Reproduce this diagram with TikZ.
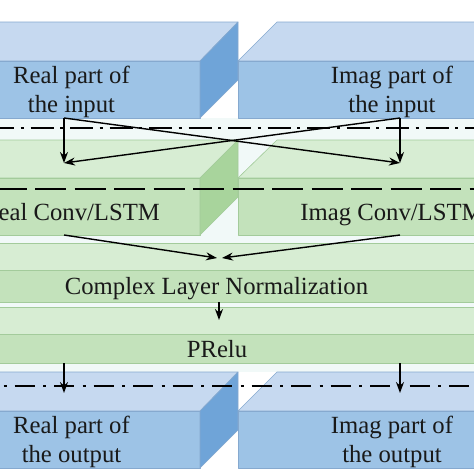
\documentclass[tikz,border=0pt]{standalone}
\usepackage{fontspec}
\setmainfont{Liberation Serif}
\newfontfamily\figfont{Liberation Serif}
\usetikzlibrary{arrows.meta}
\definecolor{btop}{HTML}{C6D9F0}
\definecolor{bfront}{HTML}{9DC3E6}
\definecolor{bside}{HTML}{6FA4D8}
\definecolor{bedge}{HTML}{86A9CF}
\definecolor{gtop}{HTML}{D7EDD3}
\definecolor{gfront}{HTML}{C3E2BB}
\definecolor{gside}{HTML}{A8D49C}
\definecolor{gedge}{HTML}{A3CB9B}
\definecolor{midbg}{HTML}{F1F9F8}
\tikzset{
  face/.style={line width=0.6pt, line join=round},
  btopf/.style={face, fill=btop, draw=bedge},
  bfrontf/.style={face, fill=bfront, draw=bedge},
  bsidef/.style={face, fill=bside, draw=bedge},
  gtopf/.style={face, fill=gtop, draw=gedge},
  gfrontf/.style={face, fill=gfront, draw=gedge},
  gsidef/.style={face, fill=gside, draw=gedge},
  lbl/.style={font=\figfont\fontsize{24.7}{29}\selectfont, anchor=base, inner sep=0pt, align=center, text=black!90},
  conn/.style={-{Stealth[length=11pt,width=8pt]}, line width=1.4pt},
  dashdottop/.style={line width=2.6pt, dash pattern=on 23pt off 6.5pt on 3pt off 7pt, dash phase=9pt},
  dashdotbot/.style={line width=2.6pt, dash pattern=on 3pt off 8pt on 20pt off 8.5pt, dash phase=36pt},
  dashline/.style={line width=2.6pt, dash pattern=on 31pt off 8.5pt, dash phase=4.5pt}
}
\begin{document}
\begin{tikzpicture}[x=1pt,y=-1pt]
\useasboundingbox (0,0) rectangle (474,474);
\clip (0,0) rectangle (474,474);
\fill[white] (0,0) rectangle (474,474);
\fill[midbg] (0,118) rectangle (474,372);

% ---- input blocks ----
\path[btopf] (238,61) -- (277,22) -- (480,22) -- (480,61) -- cycle;
\path[bfrontf] (238,61) rectangle (480,118);
\path[btopf] (-5,61) -- (200,61) -- (238,22) -- (-5,22) -- cycle;
\path[bfrontf] (-5,61) rectangle (200,118);
\path[bsidef] (200,61) -- (238,22) -- (238,80) -- (200,118) -- cycle;

% ---- conv blocks ----
\path[gtopf] (238,178) -- (277,140) -- (480,140) -- (480,178) -- cycle;
\path[gfrontf] (238,178) rectangle (480,235);
\path[gtopf] (-5,178) -- (200,178) -- (238,140) -- (-5,140) -- cycle;
\path[gfrontf] (-5,178) rectangle (200,235);
\path[gsidef] (200,178) -- (238,140) -- (238,197) -- (200,235) -- cycle;

% ---- CLN and PRelu layers ----
\path[gtopf] (-5,243) rectangle (480,270);
\path[gfrontf] (-5,270) rectangle (480,302);
\path[gtopf] (-5,307) rectangle (480,334);
\path[gfrontf] (-5,334) rectangle (480,363);

% ---- output blocks ----
\path[btopf] (238,411) -- (277,372) -- (480,372) -- (480,411) -- cycle;
\path[bfrontf] (238,411) rectangle (480,468);
\path[btopf] (-5,411) -- (200,411) -- (238,372) -- (-5,372) -- cycle;
\path[bfrontf] (-5,411) rectangle (200,468);
\path[bsidef] (200,411) -- (238,372) -- (238,430) -- (200,468) -- cycle;

% ---- separator lines ----
\coordinate (dd1L) at (0,128); \coordinate (dd1R) at (474,128);
\coordinate (dsL) at (0,189); \coordinate (dsR) at (474,189);
\coordinate (dd2L) at (0,386); \coordinate (dd2R) at (474,386);
\draw[dashdottop] (dd1L) -- (dd1R);
\draw[dashline] (dsL) -- (dsR);
\draw[dashdotbot] (dd2L) -- (dd2R);

% ---- texts ----
\node[lbl] (rin) at (71.5,112) {Real part of\\the input};
\node[lbl] (iin) at (392,112) {Imag part of\\the input};
\node[lbl] (rconv) at (71,220) {Real Conv/LSTM};
\node[lbl] (iconv) at (392,220) {Imag Conv/LSTM};
\node[lbl] (cln) at (216.5,294) {Complex Layer Normalization};
\node[lbl] (prelu) at (217,357) {PRelu};
\node[lbl] (rout) at (71.5,462) {Real part of\\the output};
\node[lbl] (iout) at (392,462) {Imag part of\\the output};

% ---- connectors ----
\coordinate (rinb) at (64,118);
\coordinate (iinb) at (400,118);
\coordinate (rcvt) at (64,163);
\coordinate (icvt) at (400,163);
\coordinate (rcvb) at (64,235);
\coordinate (icvb) at (400,235);
\coordinate (clnL) at (217,258);
\coordinate (clnR) at (222,258);
\coordinate (clnb) at (219,302);
\coordinate (prt) at (219,320);
\coordinate (prbL) at (64,363);
\coordinate (prbR) at (400,363);
\coordinate (routt) at (64,393);
\coordinate (ioutt) at (400,393);

\draw[conn] (rinb) -- (rcvt);
\draw[conn] (rinb) -- (icvt);
\draw[conn] (iinb) -- (icvt);
\draw[conn] (iinb) -- (rcvt);
\draw[conn] (rcvb) -- (clnL);
\draw[conn] (icvb) -- (clnR);
\draw[conn] (clnb) -- (prt);
\draw[conn] (prbL) -- (routt);
\draw[conn] (prbR) -- (ioutt);
\end{tikzpicture}
\end{document}
